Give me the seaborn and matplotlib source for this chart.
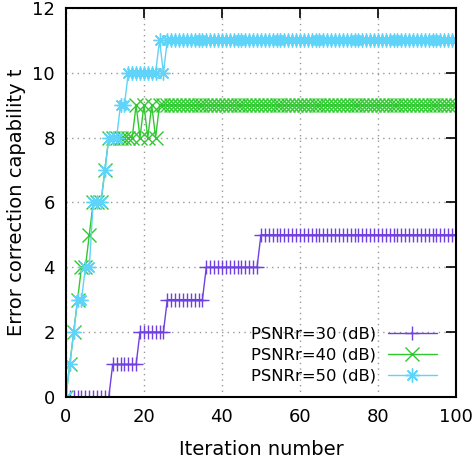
import numpy as np
import pandas as pd
import matplotlib
matplotlib.use("Agg")
import matplotlib.pyplot as plt
import seaborn as sns

# iteration number 0..100
iters = np.arange(0, 101)

# PSNRr=30 (dB): plateau levels of t
psnr30_head = [0] * 12 + [1] * 7 + [2] * 7 + [3] * 10 + [4] * 14
psnr30 = psnr30_head + [5] * (101 - len(psnr30_head))

# PSNRr=40 (dB)
psnr40_head = [0, 1, 2, 3, 4, 4, 5, 6, 6, 6, 7, 8, 8, 8, 8, 8, 8, 8, 9, 8, 9, 8, 9, 8]
psnr40 = psnr40_head + [9] * (101 - len(psnr40_head))

# PSNRr=50 (dB)
psnr50_head = [0, 1, 2, 3, 3, 4, 4, 6, 6, 6, 7, 8, 8, 8, 9, 9,
               10, 10, 10, 10, 10, 10, 10, 10, 11, 10]
psnr50 = psnr50_head + [11] * (101 - len(psnr50_head))

labels = ["PSNRr=30 (dB)", "PSNRr=40 (dB)", "PSNRr=50 (dB)"]
colors = ["#7040e0", "#30c830", "#60d4f8"]
markers = ["+", "x", (8, 2, 0)]

sns.set_style("white")
plt.rcParams["font.family"] = ["DejaVu Sans"]
plt.rcParams["text.color"] = "black"
plt.rcParams["axes.labelcolor"] = "black"
plt.rcParams["xtick.color"] = "black"
plt.rcParams["ytick.color"] = "black"

fig = plt.figure(figsize=(4.74, 4.61), dpi=100)
ax = fig.add_axes([0.139, 0.139, 0.823, 0.844])

for vals, lab, c, m in zip([psnr30, psnr40, psnr50], labels, colors, markers):
    sns.lineplot(x=iters, y=vals, ax=ax, color=c, label=lab, lw=1.0,
                 marker=m, markersize=10, markeredgecolor=c, markerfacecolor=c,
                 markeredgewidth=1.0)

ax.set_xlim(0, 100)
ax.set_ylim(0, 12)
ax.set_xticks(np.arange(0, 101, 20))
ax.set_yticks(np.arange(0, 13, 2))
ax.grid(True, color="#999999", linestyle=(0, (1, 3)), lw=1.0)
ax.tick_params(direction="in", length=7, width=1.2, top=True, right=True,
               labelsize=13, pad=8, color="black", labelcolor="black")
for sp in ax.spines.values():
    sp.set_color("black")
    sp.set_linewidth(1.5)

ax.set_xlabel("Iteration number", fontsize=14, labelpad=10)
ax.set_ylabel("Error correction capability t", fontsize=14, labelpad=4)

ax.legend(loc="lower right", bbox_to_anchor=(0.968, 0.017), frameon=False,
          markerfirst=False, fontsize=11.8, handlelength=3.0,
          labelspacing=0.38, borderaxespad=0.0, handletextpad=0.7)

fig.savefig("out.png", dpi=100)
